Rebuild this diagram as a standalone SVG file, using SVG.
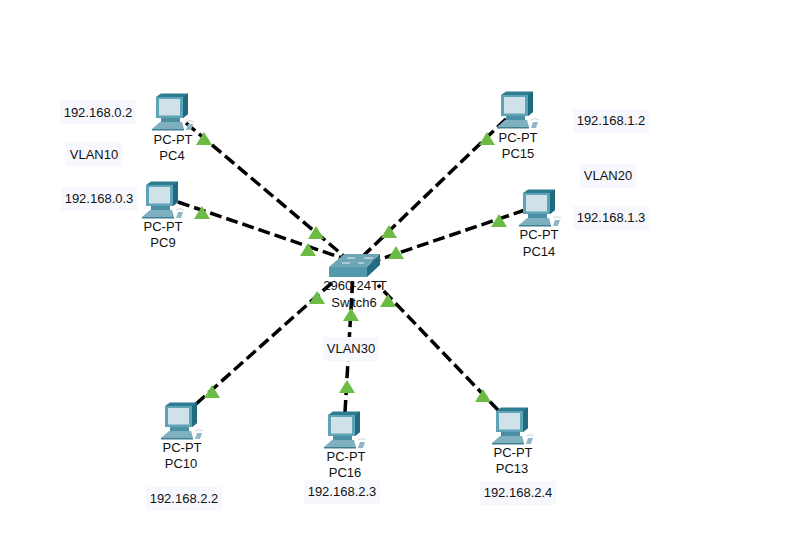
<svg xmlns="http://www.w3.org/2000/svg" width="788" height="549" viewBox="0 0 788 549">
<style>
text{font-family:"Liberation Sans",Arial,sans-serif;font-size:13px;fill:#111;text-anchor:middle}
.link{stroke:#000;stroke-width:3.500;stroke-dasharray:12 5;fill:none}
.tri{fill:#6cbb45}
.lb{fill:#f7f7fe}
</style>
<defs>
<g id="pc">
<path d="M0 0L5 -3.500H32V17L27 21H0Z" fill="#2e7c90"/>
<path d="M27 0L32 -3.500V17L27 21Z" fill="#1f6a7e"/>
<rect x="0" y="0" width="27" height="21" fill="#5fa3b6"/>
<rect x="3" y="2" width="21" height="16.500" fill="#cfe1e9"/>
<path d="M5 21H24V25H5Z" fill="#4a8fa3"/>
<path d="M-4 32L4 25H26L28 32Z" fill="#7fb0bf"/>
<path d="M-4 32H28V33.500H-4Z" fill="#3f8094"/>
<path d="M30 33L32 27H37L35 33Z" fill="#8fb7c4"/>
<path d="M30 25q4 -3 8 0" stroke="#c9d6da" fill="none"/>
</g>
<path id="t" class="tri" d="M0 -7L8 6H-8Z"/>
</defs>
<rect width="788" height="549" fill="#fff"/>
<g id="connectors">
<path class="link" d="M186 123L345 257"/>
<path class="link" d="M178 202L345 259"/>
<path class="link" d="M506 119L362 257"/>
<path class="link" d="M525 210L372 262"/>
<path class="link" d="M196 404L335 280"/>
<path class="link" d="M345 412L353 275"/>
<path class="link" d="M498 410L378 285"/>
<use href="#t" x="204" y="139"/>
<use href="#t" x="316" y="233"/>
<use href="#t" x="202" y="213"/>
<use href="#t" x="308" y="250"/>
<use href="#t" x="487" y="139"/>
<use href="#t" x="389" y="232"/>
<use href="#t" x="499" y="221"/>
<use href="#t" x="396" y="253"/>
<use href="#t" x="212" y="392"/>
<use href="#t" x="317" y="298"/>
<use href="#t" x="347" y="387"/>
<use href="#t" x="351" y="315"/>
<use href="#t" x="483" y="396"/>
<use href="#t" x="388" y="301"/>
</g>
<g id="switch6">
<path d="M329 267L344 254H380L367 267Z" fill="#6fa6b5"/>
<path d="M329 267H367V277H329Z" fill="#5299ad"/>
<path d="M367 267L380 254V265L367 277Z" fill="#236c81"/>
<path d="M342 263H350M358 263H364M347 258H355M364 258H373" stroke="#e6f1f4" stroke-width="1"/>
<text x="355" y="290">2960-24TT</text>
<text x="354" y="307">Switch6</text>
</g>
<g id="pc4"><use href="#pc" x="156" y="97"/><text x="173" y="144">PC-PT</text><text x="172" y="160">PC4</text></g>
<g id="pc9"><use href="#pc" x="146" y="185"/><text x="163" y="231">PC-PT</text><text x="163" y="247">PC9</text></g>
<g id="pc15"><use href="#pc" x="501" y="95"/><text x="518" y="142">PC-PT</text><text x="518" y="158">PC15</text></g>
<g id="pc14"><use href="#pc" x="523" y="193"/><text x="539" y="239">PC-PT</text><text x="539" y="256">PC14</text></g>
<g id="pc10"><use href="#pc" x="165" y="406"/><text x="182" y="452">PC-PT</text><text x="181" y="468">PC10</text></g>
<g id="pc16"><use href="#pc" x="328" y="415"/><text x="346" y="461">PC-PT</text><text x="345" y="477">PC16</text></g>
<g id="pc13"><use href="#pc" x="496" y="411"/><text x="513" y="457">PC-PT</text><text x="512" y="473">PC13</text></g>
<g id="labels">
<rect class="lb" x="60" y="100" width="76" height="24"/><text x="98" y="117">192.168.0.2</text>
<rect class="lb" x="66" y="142" width="56" height="24"/><text x="94" y="159">VLAN10</text>
<rect class="lb" x="61" y="187" width="76" height="24"/><text x="99" y="203">192.168.0.3</text>
<rect class="lb" x="573" y="109" width="76" height="24"/><text x="611" y="125">192.168.1.2</text>
<rect class="lb" x="580" y="164" width="56" height="24"/><text x="608" y="180">VLAN20</text>
<rect class="lb" x="573" y="206" width="76" height="24"/><text x="611" y="222">192.168.1.3</text>
<rect class="lb" x="323" y="337" width="56" height="24"/><text x="351" y="353">VLAN30</text>
<rect class="lb" x="146" y="487" width="76" height="24"/><text x="184" y="503">192.168.2.2</text>
<rect class="lb" x="304" y="480" width="76" height="24"/><text x="342" y="496">192.168.2.3</text>
<rect class="lb" x="480" y="481" width="76" height="24"/><text x="518" y="497">192.168.2.4</text>
</g>
</svg>
